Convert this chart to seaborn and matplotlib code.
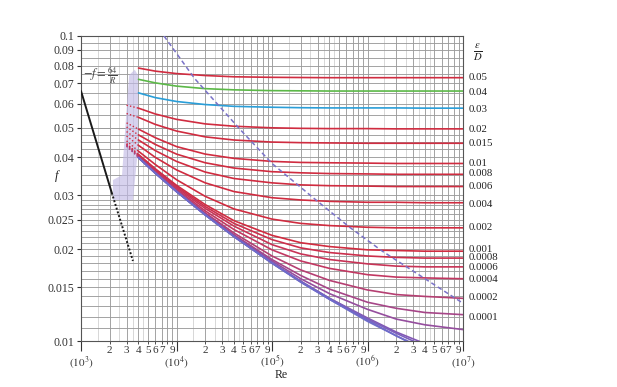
import matplotlib
matplotlib.use("Agg")
import matplotlib.pyplot as plt
from matplotlib.ticker import FixedLocator, FixedFormatter
import numpy as np
import pandas as pd
import seaborn as sns

# ---------------- data ----------------
Re_pts = [4e3, 6e3, 1e4, 2e4, 4e4, 1e5, 2e5, 4e5, 1e6, 2e6, 4e6, 1e7]

eps_labels = ["0.05", "0.04", "0.03", "0.02", "0.015", "0.01", "0.008", "0.006",
              "0.004", "0.002", "0.001", "0.0008", "0.0006", "0.0004", "0.0002",
              "0.0001", "0.00005", "0.00001", "0.000005", "0.000001", "smooth"]

f_0p05 = [0.0785, 0.0767, 0.0753, 0.0742, 0.0735, 0.0732, 0.0731, 0.0730, 0.0730, 0.0730, 0.0730, 0.0730]
f_0p04 = [0.0721, 0.0702, 0.0685, 0.0672, 0.0666, 0.0662, 0.0661, 0.0660, 0.0660, 0.0660, 0.0660, 0.0660]
f_0p03 = [0.0651, 0.0628, 0.0610, 0.0596, 0.0588, 0.0584, 0.0582, 0.0581, 0.0581, 0.0581, 0.0580, 0.0580]
f_0p02 = [0.0580, 0.0555, 0.0533, 0.0515, 0.0506, 0.0500, 0.0498, 0.0497, 0.0497, 0.0496, 0.0496, 0.0496]
f_0p015 = [0.0541, 0.0513, 0.0488, 0.0467, 0.0456, 0.0449, 0.0447, 0.0446, 0.0445, 0.0445, 0.0445, 0.0445]
f_0p01 = [0.0495, 0.0464, 0.0434, 0.0410, 0.0397, 0.0388, 0.0385, 0.0384, 0.0383, 0.0382, 0.0382, 0.0382]
f_0p008 = [0.0474, 0.0441, 0.0410, 0.0384, 0.0369, 0.0359, 0.0356, 0.0354, 0.0353, 0.0352, 0.0352, 0.0352]
f_0p006 = [0.0456, 0.0421, 0.0388, 0.0358, 0.0341, 0.0330, 0.0325, 0.0323, 0.0322, 0.0321, 0.0321, 0.0321]
f_0p004 = [0.0438, 0.0400, 0.0364, 0.0330, 0.0309, 0.0295, 0.0290, 0.0287, 0.0285, 0.0285, 0.0284, 0.0284]
f_0p002 = [0.0419, 0.0379, 0.0338, 0.0298, 0.0271, 0.0251, 0.0243, 0.0239, 0.0236, 0.0235, 0.0235, 0.0235]
f_0p001 = [0.0409, 0.0367, 0.0324, 0.0280, 0.0248, 0.0222, 0.0210, 0.0204, 0.0199, 0.0198, 0.0197, 0.0197]
f_0p0008 = [0.0407, 0.0365, 0.0321, 0.0276, 0.0243, 0.0215, 0.0202, 0.0195, 0.0190, 0.0188, 0.0187, 0.0187]
f_0p0006 = [0.0405, 0.0362, 0.0318, 0.0272, 0.0238, 0.0207, 0.0193, 0.0185, 0.0179, 0.0176, 0.0175, 0.0175]
f_0p0004 = [0.0403, 0.0360, 0.0315, 0.0267, 0.0232, 0.0199, 0.0183, 0.0173, 0.0165, 0.0162, 0.0161, 0.0160]
f_0p0002 = [0.0401, 0.0357, 0.0312, 0.0263, 0.0226, 0.0190, 0.0171, 0.0158, 0.0147, 0.0142, 0.0140, 0.0138]
f_0p0001 = [0.0400, 0.0356, 0.0310, 0.0261, 0.0223, 0.0185, 0.0164, 0.0148, 0.0134, 0.0128, 0.0124, 0.0122]
f_5em5 = [0.0400, 0.0356, 0.0310, 0.0260, 0.0221, 0.0183, 0.0160, 0.0143, 0.0127, 0.0118, 0.0113, 0.0109]
f_1em5 = [0.0399, 0.0355, 0.0309, 0.0259, 0.0220, 0.0181, 0.0157, 0.0138, 0.0119, 0.0107, 0.0098, 0.0090]
f_5em6 = [0.0399, 0.0355, 0.0309, 0.0259, 0.0220, 0.0180, 0.0157, 0.0138, 0.0118, 0.0106, 0.0096, 0.0087]
f_1em6 = [0.0399, 0.0355, 0.0309, 0.0259, 0.0220, 0.0180, 0.0156, 0.0137, 0.0117, 0.0104, 0.0094, 0.0082]
f_smooth = [0.0399, 0.0355, 0.0309, 0.0259, 0.0220, 0.0180, 0.0156, 0.0137, 0.0116, 0.0104, 0.0093, 0.0081]

curves = [f_0p05, f_0p04, f_0p03, f_0p02, f_0p015, f_0p01, f_0p008, f_0p006,
          f_0p004, f_0p002, f_0p001, f_0p0008, f_0p0006, f_0p0004, f_0p0002,
          f_0p0001, f_5em5, f_1em5, f_5em6, f_1em6, f_smooth]

# labelled curves on the right-hand side
right_labels = eps_labels[:16]

# dotted extensions into the critical zone (Re from 3000 to 4000)
dot_Re = [3e3, 4e3]
dot_f3k = [0.0593, 0.0557, 0.0519, 0.0503, 0.0486, 0.0470, 0.0453, 0.0444,
           0.0442, 0.0440, 0.0438, 0.0436, 0.0435]

# laminar line f = 64/Re
lam_Re_solid = [1000, 2100]
lam_f_solid = [0.066, 0.0306]
lam_Re_dot = [2100, 3500]
lam_f_dot = [0.0306, 0.0183]

# dashed boundary of complete turbulence
rough_Re = [7.4e3, 1.55e4, 4.6e4, 1.0e5, 3.0e5, 6.5e5, 1.43e6, 4.0e6, 1.0e7]
rough_f = [0.1, 0.0725, 0.0495, 0.0382, 0.0287, 0.0236, 0.0197, 0.0160, 0.0133]

# critical zone shading
crit_Re = [3200, 3650, 3950, 3950, 3500, 2160, 2160, 2690, 2850, 3050]
crit_f = [0.0745, 0.0775, 0.0745, 0.0423, 0.029, 0.029, 0.0337, 0.035, 0.0456, 0.0617]

y_tick_vals = [0.01, 0.015, 0.02, 0.025, 0.03, 0.04, 0.05, 0.06, 0.07, 0.08, 0.09, 0.1]
y_tick_text = ["0.01", "0.015", "0.02", "0.025", "0.03", "0.04", "0.05", "0.06",
               "0.07", "0.08", "0.09", "0.1"]
x_major_vals = [1e3, 1e4, 1e5, 1e6, 1e7]
x_major_text = [r"$(10^{3})$", r"$(10^{4})$", r"$(10^{5})$", r"$(10^{6})$", r"$(10^{7})$"]
x_minor_digits = [2, 3, 4, 5, 6, 7, 8, 9]
x_minor_text = ["2", "3", "4", "5", "6", "7", "", "9"]

# ---------------- styling ----------------
sns.set_style("white")
plt.rcParams["font.family"] = ["Liberation Serif", "DejaVu Serif"]
plt.rcParams["mathtext.fontset"] = "stix"

RED = "#d02c40"
colors = [RED, "#5cb848", "#2a9ed8", RED, RED, RED, RED, RED, RED, RED, RED,
          "#cc2f4c", "#c83356", "#c23862", "#b53f72", "#a64688", "#954e9e",
          "#8358b4", "#7c60bd", "#7566c4", "#6e6cca"]

# label heights on the right edge (pixel rows of the 617x387 picture)
label_px = [78, 92, 109, 129, 143, 163, 173, 186, 204, 227, 249, 258, 268, 280, 298, 317]

rows = []
for lab, fv in zip(eps_labels, curves):
    for r, v in zip(Re_pts, fv):
        rows.append({"Re": r, "f": v, "eps": lab})
df = pd.DataFrame(rows)

fig = plt.figure(figsize=(6.17, 3.87), dpi=100)
ax = fig.add_axes([81 / 617, 1 - 341 / 387, 382 / 617, 305 / 387])
ax.set_xscale("log")
ax.set_yscale("log")
ax.set_xlim(1e3, 1e7)
ax.set_ylim(0.01, 0.1)

# grid
GRID = "#9c9c9c"
for d in [1e3, 1e4, 1e5, 1e6]:
    for k in range(1, 10):
        ax.axvline(d * k, color=GRID, lw=0.65, zorder=0)
    for k in [1.5, 2.5, 3.5, 4.5]:
        ax.axvline(d * k, color="#cdcdcd", lw=0.55, zorder=0)
hgrid = list(np.arange(0.010, 0.0301, 0.001)) + list(np.arange(0.0325, 0.05, 0.0025)) + \
    list(np.arange(0.05, 0.1001, 0.005))
for y in hgrid:
    ax.axhline(y, color=GRID, lw=0.65, zorder=0)

# critical zone
ax.fill(crit_Re, crit_f, color="#c2bae6", alpha=0.65, lw=0, zorder=1)

# curves
sns.lineplot(data=df, x="Re", y="f", hue="eps", hue_order=eps_labels,
             palette=colors, legend=False, ax=ax, linewidth=1.2,
             estimator=None, sort=False, zorder=3)

for i, f3 in enumerate(dot_f3k):
    idx = i + 3
    ax.plot(dot_Re, [f3, curves[idx][0]], color=colors[idx], lw=1.0,
            ls=(0, (1, 1.5)), zorder=3)

# laminar
ax.plot(lam_Re_solid, lam_f_solid, color="#1a1a1a", lw=1.4, zorder=4)
ax.plot(lam_Re_dot, lam_f_dot, color="#1a1a1a", lw=1.4, ls=(0, (1, 1)), zorder=4)

# rough boundary
ax.plot(rough_Re, rough_f, color="#7a72c8", lw=1.1, ls=(0, (3, 2)), zorder=4)

# ticks
ax.yaxis.set_major_locator(FixedLocator(y_tick_vals))
ax.yaxis.set_major_formatter(FixedFormatter(y_tick_text))
ax.yaxis.set_minor_locator(FixedLocator([]))
minor_x = [d * k for d in [1e3, 1e4, 1e5, 1e6] for k in x_minor_digits]
minor_lab = [t for d in [1e3, 1e4, 1e5, 1e6] for t in x_minor_text]
ax.xaxis.set_major_locator(FixedLocator(x_major_vals))
ax.xaxis.set_major_formatter(FixedFormatter(x_major_text))
ax.xaxis.set_minor_locator(FixedLocator(minor_x))
ax.xaxis.set_minor_formatter(FixedFormatter(minor_lab))
ax.tick_params(axis="y", which="major", length=3, width=0.8, labelsize=8.5, pad=2,
               colors="#333333", left=True)
ax.tick_params(axis="x", which="major", length=7, width=0.8, labelsize=8, pad=2.2,
               colors="#333333", bottom=True)
ax.tick_params(axis="x", which="minor", length=2, width=0.6, labelsize=8, pad=1.5,
               colors="#333333", bottom=True)
ax.set_xlabel("")
ax.set_ylabel("")
for s in ax.spines.values():
    s.set_color("#555555")
    s.set_linewidth(0.8)

# right-hand labels
for lab, py in zip(right_labels, label_px):
    ax.text(1.015, (341 - py) / 305, lab, transform=ax.transAxes, ha="left",
            va="center", fontsize=7.8, color="#222222")
ax.text(1.04, 0.945, r"$\frac{\epsilon}{D}$", transform=ax.transAxes,
        ha="center", va="center", fontsize=11, color="#222222")
ax.text(0.004, 0.872, r"$-f = \frac{64}{R}$", transform=ax.transAxes,
        ha="left", va="center", fontsize=9, color="#444444")

fig.text(57 / 617, 1 - 176 / 387, "f", style="italic", fontsize=9,
         ha="center", va="center", color="#222222")
fig.text(281 / 617, 1 - 375 / 387, "Re", fontsize=8.5, ha="center", va="center",
         color="#222222")

fig.savefig("out.png", dpi=100, facecolor="white")
